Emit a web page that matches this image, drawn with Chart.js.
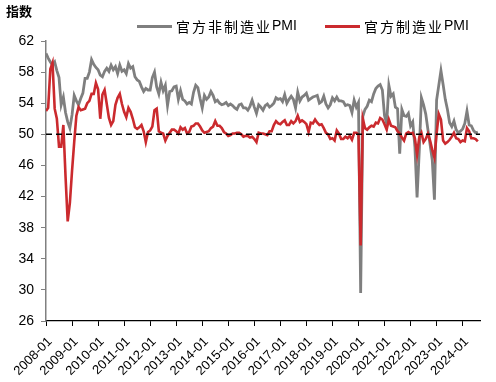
<!DOCTYPE html>
<html>
<head>
<meta charset="utf-8">
<script src="https://cdn.jsdelivr.net/npm/chart.js@4.4.1/dist/chart.umd.min.js"></script>
<style>
  html, body { margin: 0; padding: 0; background: #fff; }
  #wrap { width: 496px; height: 382px; position: relative; }
</style>
</head>
<body>
<div id="wrap"><canvas id="chart"></canvas></div>
<script>
// monthly, 2008-01 .. 2024-08
const nonMfgPMI = [
  60.4, 59.8, 59.3, 58.9, 59.3, 58.2, 57.3, 53.8, 54.8, 52.8, 51.6, 50.8,
  52.5, 55.0, 54.3, 53.8, 54.6, 55.3, 57.2, 57.2, 58.0, 59.6, 59.0, 58.6,
  58.3, 57.6, 57.4, 58.1, 58.5, 58.1, 58.9, 58.3, 58.7, 57.8, 58.9, 58.1,
  58.3, 57.8, 59.1, 58.5, 58.7, 57.4, 57.0, 56.8, 56.1, 55.5, 55.9, 55.7,
  55.7, 57.3, 58.0, 56.1, 55.2, 56.7, 55.6, 56.3, 53.7, 55.5, 55.6, 56.1,
  56.2, 54.5, 55.6, 54.5, 54.3, 53.9, 54.1, 53.9, 55.4, 56.3, 56.0, 54.6,
  53.4, 55.0, 54.5, 54.8, 55.5, 55.0, 54.2, 54.4, 54.0, 53.8, 53.9, 54.1,
  53.7, 53.9, 53.7, 53.4, 53.2, 53.8, 53.9, 53.4, 53.4, 53.1, 53.6, 54.4,
  53.5, 52.7, 53.8, 53.5, 53.1, 53.7, 53.9, 53.5, 53.7, 54.0, 54.7, 54.5,
  54.6, 54.2, 55.1, 54.0, 54.5, 54.9, 54.5, 53.4, 55.4, 54.3, 54.8, 55.0,
  55.3, 54.4, 54.6, 54.8, 54.9, 55.0, 54.0, 54.2, 54.9, 53.9, 53.4, 53.8,
  54.7, 54.3, 54.8, 54.3, 54.3, 54.2, 53.7, 53.8, 53.7, 52.8, 54.4, 53.5,
  54.1, 29.6, 52.3, 53.2, 53.6, 54.4, 54.2, 55.2, 55.9, 56.2, 56.4, 55.7,
  52.4, 51.4, 56.3, 54.9, 55.2, 53.5, 53.3, 47.5, 53.2, 52.4, 52.3, 52.7,
  51.1, 51.6, 48.4, 41.9, 47.8, 54.7, 53.8, 52.6, 50.6, 48.7, 46.7, 41.6,
  54.4, 56.3, 58.2, 56.4, 54.5, 53.2, 51.5, 51.0, 51.7, 50.6, 50.2, 50.4,
  50.7, 51.4, 53.0, 51.2, 51.1, 50.5, 50.2, 50.3
];
const mfgPMI = [
  53.0, 53.4, 58.4, 59.2, 53.3, 52.0, 48.4, 48.4, 51.2, 44.6, 38.8, 41.2,
  45.3, 49.0, 52.4, 53.5, 53.1, 53.2, 53.3, 54.0, 54.3, 55.2, 55.2, 56.6,
  55.8, 52.0, 55.1, 55.7, 53.9, 52.1, 51.2, 51.7, 53.8, 54.7, 55.2, 53.9,
  52.9, 52.2, 53.4, 52.9, 52.0, 50.9, 50.7, 50.9, 51.2, 50.4, 49.0, 50.3,
  50.5, 51.0, 53.1, 53.3, 50.4, 50.2, 50.1, 49.2, 49.8, 50.2, 50.6, 50.6,
  50.4, 50.1, 50.9, 50.6, 50.8, 50.1, 50.3, 51.0, 51.1, 51.4, 51.4, 51.0,
  50.5, 50.2, 50.3, 50.4, 50.8, 51.0, 51.7, 51.1, 51.1, 50.8, 50.3, 50.1,
  49.8, 49.9, 50.1, 50.1, 50.2, 50.2, 50.0, 49.7, 49.8, 49.8, 49.6, 49.7,
  49.4, 49.0, 50.2, 50.1, 50.1, 50.0, 49.9, 50.4, 50.4, 51.2, 51.7, 51.4,
  51.3, 51.6, 51.8, 51.2, 51.2, 51.7, 51.4, 51.7, 52.4, 51.6, 51.8, 51.6,
  51.3, 50.3, 51.5, 51.4, 51.9, 51.5, 51.2, 51.3, 50.8, 50.2, 50.0, 49.4,
  49.5, 49.2, 50.5, 50.1, 49.4, 49.4, 49.7, 49.5, 49.8, 49.3, 50.2, 50.2,
  50.0, 35.7, 52.0, 50.8, 50.6, 50.9, 51.1, 51.0, 51.5, 51.4, 52.1, 51.9,
  51.3, 50.6, 51.9, 51.1, 51.0, 50.9, 50.4, 50.1, 49.6, 49.2, 50.1, 50.3,
  50.1, 50.2, 49.5, 47.4, 49.6, 50.2, 49.0, 49.4, 50.1, 49.2, 48.0, 47.0,
  50.1, 52.6, 51.9, 49.2, 48.8, 49.0, 49.3, 49.7, 50.2, 49.5, 49.4, 49.0,
  49.2, 49.1, 50.8, 50.4, 49.5, 49.5, 49.4, 49.1
];
const xTickLabels = [
  '2008-01', '2009-01', '2010-01', '2011-01', '2012-01', '2013-01', '2014-01', '2015-01', '2016-01',
  '2017-01', '2018-01', '2019-01', '2020-01', '2021-01', '2022-01', '2023-01', '2024-01'
];
const yTickValues = [26, 30, 34, 38, 42, 46, 50, 54, 58, 62];
const refLevel = 50;
const seriesNames = ['官方非制造业PMI', '官方制造业PMI'];
const yTitle = '指数';

const GRAY = '#7f7f7f';
const RED = '#cb2a2e';
const monthsShown = 200;

const toPoints = arr => arr.map((v, i) => ({ x: i, y: v }));

// legend + unit label drawn on canvas
const legendPlugin = {
  id: 'topLegend',
  afterDraw(chart) {
    const ctx = chart.ctx;
    ctx.save();
    ctx.fillStyle = '#000';
    ctx.textBaseline = 'middle';
    ctx.font = 'bold 13px "Noto Sans CJK SC"';
    ctx.fillText(yTitle, 6, 11);

    const items = [
      { name: seriesNames[0], color: GRAY, x: 137 },
      { name: seriesNames[1], color: RED, x: 325 }
    ];
    const y = 26.5;
    items.forEach(it => {
      ctx.strokeStyle = it.color;
      ctx.lineWidth = 3;
      ctx.beginPath();
      ctx.moveTo(it.x, y);
      ctx.lineTo(it.x + 35, y);
      ctx.stroke();
      const cjk = it.name.replace('PMI', '');
      ctx.font = '14px "Noto Sans CJK SC"';
      ctx.letterSpacing = '2px';
      ctx.fillStyle = '#000';
      ctx.fillText(cjk, it.x + 39, y);
      const w = ctx.measureText(cjk).width;
      ctx.letterSpacing = '0px';
      ctx.font = '14px "Liberation Sans"';
      ctx.fillText('PMI', it.x + 39 + w, y);
    });
    ctx.restore();
  }
};

const ctx = document.getElementById('chart').getContext('2d');
new Chart(ctx, {
  type: 'line',
  data: {
    datasets: [
      {
        label: seriesNames[0],
        data: toPoints(nonMfgPMI),
        borderColor: GRAY,
        borderWidth: 2.8,
        pointRadius: 0,
        tension: 0,
        order: 2
      },
      {
        label: seriesNames[1],
        data: toPoints(mfgPMI),
        borderColor: RED,
        borderWidth: 2.6,
        pointRadius: 0,
        tension: 0,
        order: 1
      },
      {
        label: 'ref',
        data: [{ x: 0, y: refLevel }, { x: monthsShown, y: refLevel }],
        borderColor: '#000',
        borderWidth: 1.5,
        borderDash: [6, 4],
        pointRadius: 0,
        order: 0
      }
    ]
  },
  options: {
    responsive: true,
    maintainAspectRatio: false,
    animation: false,
    layout: { padding: { top: 41, right: 16, left: 0, bottom: 0 } },
    plugins: {
      legend: { display: false },
      tooltip: { enabled: false }
    },
    scales: {
      x: {
        type: 'linear',
        min: 0,
        max: monthsShown,
        afterBuildTicks: (scale) => {
          scale.ticks = xTickLabels.map((_, i) => ({ value: i * 12 }));
        },
        afterFit: (scale) => { scale.height = 61; },
        ticks: {
          autoSkip: false,
          minRotation: 45,
          maxRotation: 45,
          padding: 8,
          labelOffset: 4,
          color: '#000',
          font: { family: '"Liberation Sans"', size: 13 },
          callback: (value, index) => xTickLabels[index]
        },
        grid: {
          display: true,
          drawOnChartArea: false,
          drawTicks: true,
          tickLength: 5,
          color: '#000'
        },
        border: { display: true, color: '#000', width: 1.2 }
      },
      y: {
        min: 26,
        max: 62,
        afterBuildTicks: (scale) => {
          scale.ticks = yTickValues.map(v => ({ value: v }));
        },
        afterFit: (scale) => { scale.width = 46; },
        ticks: {
          padding: 7,
          color: '#000',
          font: { family: '"Liberation Sans"', size: 14 }
        },
        grid: {
          display: true,
          drawOnChartArea: false,
          drawTicks: true,
          tickLength: 5,
          color: '#808080'
        },
        border: { display: true, color: '#808080', width: 1.5 }
      }
    }
  },
  plugins: [legendPlugin]
});
</script>
</body>
</html>
